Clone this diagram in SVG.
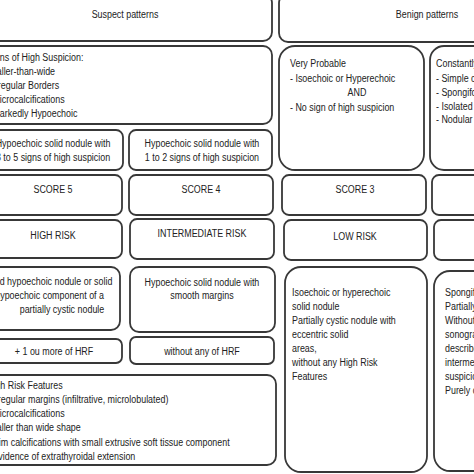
<svg xmlns="http://www.w3.org/2000/svg" width="474" height="474" viewBox="0 0 474 474">
<style>
.b{fill:#fff;stroke:#383838;stroke-width:1.8}
text{font-family:"Liberation Sans",Arial,sans-serif;font-size:11.5px;fill:#222}
.m{text-anchor:middle}
.e{text-anchor:end}
</style>
<rect width="474" height="474" fill="#fff"/>
<g id="connectors"/>
<g id="suspect"><rect class="b" x="-25" y="-6" width="297" height="47" rx="9"/>
<text class="m" transform="scale(0.775 1)" x="161.3" y="18">Suspect patterns</text></g>
<g id="benign"><rect class="b" x="279" y="-6" width="300" height="48" rx="9"/>
<text class="m" transform="scale(0.775 1)" x="551" y="18">Benign patterns</text></g>
<g id="signs"><rect class="b" x="-25" y="46" width="297" height="78" rx="9"/>
<text transform="scale(0.775 1)" x="-16.8" y="61">Signs of High Suspicion:</text>
<text transform="scale(0.775 1)" x="-16.8" y="75">- Taller-than-wide</text>
<text transform="scale(0.775 1)" x="-16.8" y="89">- Irregular Borders</text>
<text transform="scale(0.775 1)" x="-16.8" y="103">- Microcalcifications</text>
<text transform="scale(0.775 1)" x="-16.8" y="117">- Markedly Hypoechoic</text></g>
<g id="veryprobable"><rect class="b" x="279" y="46" width="145" height="124" rx="16"/>
<text transform="scale(0.775 1)" x="374.2" y="67">Very Probable</text>
<text transform="scale(0.775 1)" x="374.2" y="82">- Isoechoic or Hyperechoic</text>
<text class="m" transform="scale(0.775 1)" x="460.6" y="96">AND</text>
<text transform="scale(0.775 1)" x="374.2" y="111">- No sign of high suspicion</text></g>
<g id="constantly"><rect class="b" x="430" y="46" width="150" height="124" rx="14"/>
<text transform="scale(0.775 1)" x="562.6" y="67">Constantly</text>
<text transform="scale(0.775 1)" x="562.6" y="82">- Simple cyst</text>
<text transform="scale(0.775 1)" x="562.6" y="96">- Spongiform</text>
<text transform="scale(0.775 1)" x="562.6" y="110">- Isolated</text>
<text transform="scale(0.775 1)" x="562.6" y="123">- Nodular</text></g>
<g id="nodule35"><rect class="b" x="-25" y="130" width="148" height="40" rx="7"/>
<text class="m" transform="scale(0.775 1)" x="68.4" y="147">Hypoechoic solid nodule with</text>
<text class="m" transform="scale(0.775 1)" x="68.4" y="161">3 to 5 signs of high suspicion</text></g>
<g id="nodule12"><rect class="b" x="129" y="130" width="143" height="40" rx="7"/>
<text class="m" transform="scale(0.775 1)" x="260.6" y="147">Hypoechoic solid nodule with</text>
<text class="m" transform="scale(0.775 1)" x="260.6" y="161">1 to 2 signs of high suspicion</text></g>
<g id="score5"><rect class="b" x="-25" y="175" width="147" height="40" rx="7"/>
<text class="m" transform="scale(0.775 1)" x="68.4" y="193">SCORE 5</text></g>
<g id="score4"><rect class="b" x="129" y="175" width="144" height="40" rx="7"/>
<text class="m" transform="scale(0.775 1)" x="259.4" y="193">SCORE 4</text></g>
<g id="score3"><rect class="b" x="282" y="175" width="144" height="40" rx="7"/>
<text class="m" transform="scale(0.775 1)" x="458.1" y="193">SCORE 3</text></g>
<g id="score2"><rect class="b" x="432" y="175" width="150" height="40" rx="7"/></g>
<g id="highrisk"><rect class="b" x="-25" y="220" width="147" height="38" rx="7"/>
<text class="m" transform="scale(0.775 1)" x="68.4" y="239">HIGH RISK</text></g>
<g id="intrisk"><rect class="b" x="130" y="219" width="144" height="40" rx="7"/>
<text class="m" transform="scale(0.775 1)" x="260.6" y="237">INTERMEDIATE RISK</text></g>
<g id="lowrisk"><rect class="b" x="284" y="220" width="143" height="40" rx="7"/>
<text class="m" transform="scale(0.775 1)" x="458.1" y="240">LOW RISK</text></g>
<g id="risk4"><rect class="b" x="434" y="220" width="150" height="40" rx="7"/></g>
<g id="desc5"><rect class="b" x="-25" y="267" width="145" height="63" rx="9"/>
<text class="e" transform="scale(0.775 1)" x="145" y="285">Solid hypoechoic nodule or solid</text>
<text class="e" transform="scale(0.775 1)" x="134.2" y="299">hypoechoic component of a</text>
<text class="m" transform="scale(0.775 1)" x="80" y="313">partially cystic nodule</text></g>
<g id="desc4"><rect class="b" x="130" y="267" width="145" height="65" rx="9"/>
<text class="m" transform="scale(0.775 1)" x="260.6" y="286">Hypoechoic solid nodule with</text>
<text class="m" transform="scale(0.775 1)" x="260.6" y="299">smooth margins</text></g>
<g id="desc3"><rect class="b" x="285" y="267" width="142" height="205" rx="16"/>
<text transform="scale(0.775 1)" x="376.8" y="296">Isoechoic or hyperechoic</text>
<text transform="scale(0.775 1)" x="376.8" y="310">solid nodule</text>
<text transform="scale(0.775 1)" x="376.8" y="324">Partially cystic nodule with</text>
<text transform="scale(0.775 1)" x="376.8" y="338">eccentric solid</text>
<text transform="scale(0.775 1)" x="376.8" y="352">areas,</text>
<text transform="scale(0.775 1)" x="376.8" y="366">without any High Risk</text>
<text transform="scale(0.775 1)" x="376.8" y="380">Features</text></g>
<g id="desc2"><rect class="b" x="434" y="271" width="150" height="200" rx="16"/>
<text transform="scale(0.775 1)" x="574.2" y="296">Spongiform</text>
<text transform="scale(0.775 1)" x="574.2" y="310">Partially</text>
<text transform="scale(0.775 1)" x="574.2" y="324">Without</text>
<text transform="scale(0.775 1)" x="574.2" y="338">sonographic</text>
<text transform="scale(0.775 1)" x="574.2" y="352">described</text>
<text transform="scale(0.775 1)" x="574.2" y="366">intermediate</text>
<text transform="scale(0.775 1)" x="574.2" y="380">suspicion</text>
<text transform="scale(0.775 1)" x="574.2" y="394">Purely cystic</text></g>
<g id="hrf5"><rect class="b" x="-25" y="339" width="147" height="24" rx="6"/>
<text class="m" transform="scale(0.775 1)" x="69.7" y="355">+ 1 ou more of HRF</text></g>
<g id="hrf4"><rect class="b" x="130" y="337" width="144" height="27" rx="6"/>
<text class="m" transform="scale(0.775 1)" x="260.6" y="355">without any of HRF</text></g>
<g id="hrf"><rect class="b" x="-25" y="375" width="301" height="90" rx="9"/>
<text transform="scale(0.775 1)" x="-16.8" y="389">High Risk Features</text>
<text transform="scale(0.775 1)" x="-16.8" y="403">- Irregular margins (infiltrative, microlobulated)</text>
<text transform="scale(0.775 1)" x="-16.8" y="417.5">- Microcalcifications</text>
<text transform="scale(0.775 1)" x="-16.8" y="431.5">- Taller than wide shape</text>
<text transform="scale(0.775 1)" x="-16.8" y="446">- Rim calcifications with small extrusive soft tissue component</text>
<text transform="scale(0.775 1)" x="-16.8" y="460">- Evidence of extrathyroidal extension</text></g>
</svg>
